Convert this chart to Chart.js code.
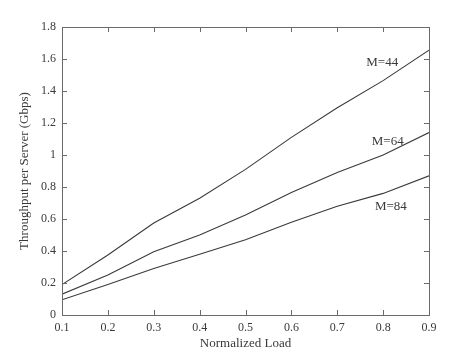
<!DOCTYPE html>
<html>
<head>
<meta charset="utf-8">
<script src="https://cdn.jsdelivr.net/npm/chart.js@4"></script>
<style>
  html, body { margin: 0; padding: 0; background: #fff; }
  #wrap { width: 474px; height: 355px; }
</style>
</head>
<body>
<div id="wrap"><canvas id="chart" width="474" height="355"></canvas></div>
<script>
const loads = [0.1, 0.2, 0.3, 0.4, 0.5, 0.6, 0.7, 0.8, 0.9];
const m44 = [0.19, 0.375, 0.575, 0.73, 0.91, 1.11, 1.295, 1.465, 1.655];
const m64 = [0.13, 0.25, 0.395, 0.5, 0.625, 0.765, 0.89, 1.0, 1.14];
const m84 = [0.095, 0.19, 0.29, 0.38, 0.47, 0.58, 0.68, 0.76, 0.87];
const seriesNames = ['M=44', 'M=64', 'M=84'];
// where each curve label sits, in data units
const labelAt = [[0.798, 1.575], [0.81, 1.087], [0.817, 0.676]];

const lineColor = '#3a3a3a';
const axisColor = '#6a6a6a';
const textColor = '#3a3a3a';
const font = "'Liberation Serif', 'Times New Roman', serif";

Chart.defaults.font.family = font;
Chart.defaults.color = textColor;

const toPoints = arr => arr.map((v, i) => ({ x: loads[i], y: v }));

// box around plot + inward ticks on all four sides
const frame = {
    id: 'frame',
    afterDatasetsDraw(chart) {
        const { ctx, chartArea: a, scales } = chart;
        ctx.save();
        ctx.strokeStyle = axisColor;
        ctx.lineWidth = 1;
        ctx.strokeRect(a.left + 0.5, a.top + 0.5, a.right - a.left, a.bottom - a.top);
        const len = 5;
        ctx.beginPath();
        scales.x.ticks.forEach(t => {
            const px = Math.round(scales.x.getPixelForValue(t.value)) + 0.5;
            ctx.moveTo(px, a.bottom); ctx.lineTo(px, a.bottom - len);
            ctx.moveTo(px, a.top); ctx.lineTo(px, a.top + len);
        });
        scales.y.ticks.forEach(t => {
            const py = Math.round(scales.y.getPixelForValue(t.value)) + 0.5;
            ctx.moveTo(a.left, py); ctx.lineTo(a.left + len, py);
            ctx.moveTo(a.right, py); ctx.lineTo(a.right - len, py);
        });
        ctx.stroke();

        ctx.fillStyle = textColor;
        ctx.font = '13px ' + font;
        ctx.textAlign = 'center';
        ctx.textBaseline = 'middle';
        seriesNames.forEach((name, i) => {
            ctx.fillText(name, scales.x.getPixelForValue(labelAt[i][0]), scales.y.getPixelForValue(labelAt[i][1]));
        });
        ctx.restore();
    }
};

const mkSet = (label, data) => ({
    label,
    data: toPoints(data),
    borderColor: lineColor,
    borderWidth: 1.1,
    pointRadius: 0,
    tension: 0,
    fill: false
});

new Chart(document.getElementById('chart'), {
    type: 'line',
    data: {
        datasets: [mkSet(seriesNames[0], m44), mkSet(seriesNames[1], m64), mkSet(seriesNames[2], m84)]
    },
    options: {
        responsive: false,
        animation: false,
        layout: { padding: { top: 27, right: 45, left: 0, bottom: 0 } },
        plugins: { legend: { display: false }, tooltip: { enabled: false } },
        scales: {
            x: {
                type: 'linear',
                min: 0.1,
                max: 0.9,
                ticks: { stepSize: 0.1, padding: 6, maxRotation: 0, font: { size: 12 }, color: textColor },
                grid: { display: false, drawTicks: false },
                border: { display: false },
                title: { display: true, text: 'Normalized Load', font: { size: 13 }, color: textColor, padding: { top: 2 } },
                afterFit(scale) { scale.height = 40; }
            },
            y: {
                min: 0,
                max: 1.8,
                ticks: {
                    stepSize: 0.2, padding: 6, font: { size: 12 }, color: textColor,
                    callback: v => String(Math.round(v * 10) / 10)
                },
                grid: { display: false, drawTicks: false },
                border: { display: false },
                title: { display: true, text: 'Throughput per Server (Gbps)', font: { size: 13 }, color: textColor, padding: { top: 17, bottom: 0 } },
                afterFit(scale) { scale.width = 62; }
            }
        }
    },
    plugins: [frame]
});
</script>
</body>
</html>
